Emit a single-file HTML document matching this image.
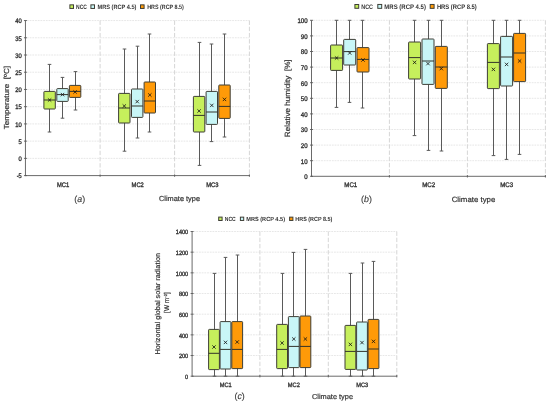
<!DOCTYPE html>
<html><head><meta charset="utf-8"><title>Box plots</title>
<style>
html,body{margin:0;padding:0;background:#fff;}
svg{display:block;font-family:"Liberation Sans",sans-serif;text-rendering:geometricPrecision;}
.g{stroke:#e1e1e1;stroke-width:0.8;stroke-dasharray:1.8 0.9;}
.d{stroke:#d6d6d6;stroke-width:1;stroke-dasharray:4.4 1.8;}
.ax{stroke:#595959;stroke-width:0.9;}
.w{stroke:#5a5a5a;stroke-width:1;}
.b{stroke:#3e3e36;stroke-width:1;}
.m{stroke:#33332a;stroke-width:1;}
.x{stroke:#111;stroke-width:0.8;fill:none;}
.t{fill:#333;stroke:#333;stroke-width:0.34;}
.lg{fill:#333;font-weight:bold;}
.lab{fill:#333;stroke:#333;stroke-width:0.2;}
.cap{font-size:8.8px;fill:#333;stroke:#333;stroke-width:0.1;}
</style></head><body>
<svg width="550" height="404" viewBox="0 0 550 404">
<rect width="550" height="404" fill="#fff"/>
<line x1="26.95" y1="20.55" x2="249.4" y2="20.55" class="g"/>
<line x1="26.95" y1="37.78" x2="249.4" y2="37.78" class="g"/>
<line x1="26.95" y1="55.01" x2="249.4" y2="55.01" class="g"/>
<line x1="26.95" y1="72.23" x2="249.4" y2="72.23" class="g"/>
<line x1="26.95" y1="89.46" x2="249.4" y2="89.46" class="g"/>
<line x1="26.95" y1="106.69" x2="249.4" y2="106.69" class="g"/>
<line x1="26.95" y1="123.92" x2="249.4" y2="123.92" class="g"/>
<line x1="26.95" y1="141.14" x2="249.4" y2="141.14" class="g"/>
<line x1="26.95" y1="158.37" x2="249.4" y2="158.37" class="g"/>
<line x1="100.10" y1="20.55" x2="100.10" y2="175.6" class="d"/>
<line x1="174.60" y1="20.55" x2="174.60" y2="175.6" class="d"/>
<line x1="249.40" y1="20.55" x2="249.40" y2="175.6" class="d"/>
<line x1="49.5" y1="64.4" x2="49.5" y2="132" class="w"/>
<line x1="47.7" y1="64.4" x2="51.3" y2="64.4" class="w"/>
<line x1="47.7" y1="132" x2="51.3" y2="132" class="w"/>
<rect x="43.90" y="91.4" width="11.4" height="17.60" rx="0.7" fill="#C6EF5C" class="b"/>
<line x1="43.90" y1="100" x2="55.30" y2="100" class="m"/>
<path d="M47.90 98.30L51.30 101.70M47.90 101.70L51.30 98.30" class="x"/>
<line x1="62.5" y1="77.4" x2="62.5" y2="118.2" class="w"/>
<line x1="60.7" y1="77.4" x2="64.3" y2="77.4" class="w"/>
<line x1="60.7" y1="118.2" x2="64.3" y2="118.2" class="w"/>
<rect x="56.80" y="88.6" width="11.4" height="12.80" rx="0.7" fill="#C8F6F7" class="b"/>
<line x1="56.80" y1="94.6" x2="68.20" y2="94.6" class="m"/>
<path d="M60.80 92.90L64.20 96.30M60.80 96.30L64.20 92.90" class="x"/>
<line x1="75.5" y1="71.6" x2="75.5" y2="110" class="w"/>
<line x1="73.7" y1="71.6" x2="77.3" y2="71.6" class="w"/>
<line x1="73.7" y1="110" x2="77.3" y2="110" class="w"/>
<rect x="69.40" y="85.4" width="11.4" height="12.00" rx="0.7" fill="#FF9A08" class="b"/>
<line x1="69.40" y1="91.4" x2="80.80" y2="91.4" class="m"/>
<path d="M73.40 90.30L76.80 93.70M73.40 93.70L76.80 90.30" class="x"/>
<line x1="124.5" y1="49" x2="124.5" y2="151.2" class="w"/>
<line x1="122.7" y1="49" x2="126.3" y2="49" class="w"/>
<line x1="122.7" y1="151.2" x2="126.3" y2="151.2" class="w"/>
<rect x="118.60" y="93.4" width="11.4" height="29.60" rx="0.7" fill="#C6EF5C" class="b"/>
<line x1="118.60" y1="108" x2="130.00" y2="108" class="m"/>
<path d="M122.60 104.30L126.00 107.70M122.60 107.70L126.00 104.30" class="x"/>
<line x1="137.5" y1="46.2" x2="137.5" y2="138" class="w"/>
<line x1="135.7" y1="46.2" x2="139.3" y2="46.2" class="w"/>
<line x1="135.7" y1="138" x2="139.3" y2="138" class="w"/>
<rect x="131.50" y="89" width="11.4" height="28.40" rx="0.7" fill="#C8F6F7" class="b"/>
<line x1="131.50" y1="106" x2="142.90" y2="106" class="m"/>
<path d="M135.50 99.90L138.90 103.30M135.50 103.30L138.90 99.90" class="x"/>
<line x1="149.5" y1="34" x2="149.5" y2="132" class="w"/>
<line x1="147.7" y1="34" x2="151.3" y2="34" class="w"/>
<line x1="147.7" y1="132" x2="151.3" y2="132" class="w"/>
<rect x="144.10" y="82" width="11.4" height="31.00" rx="0.7" fill="#FF9A08" class="b"/>
<line x1="144.10" y1="101" x2="155.50" y2="101" class="m"/>
<path d="M148.10 93.30L151.50 96.70M148.10 96.70L151.50 93.30" class="x"/>
<line x1="199.5" y1="42.4" x2="199.5" y2="165.4" class="w"/>
<line x1="197.7" y1="42.4" x2="201.3" y2="42.4" class="w"/>
<line x1="197.7" y1="165.4" x2="201.3" y2="165.4" class="w"/>
<rect x="193.40" y="96.4" width="11.4" height="35.60" rx="0.7" fill="#C6EF5C" class="b"/>
<line x1="193.40" y1="115.4" x2="204.80" y2="115.4" class="m"/>
<path d="M197.40 109.30L200.80 112.70M197.40 112.70L200.80 109.30" class="x"/>
<line x1="211.5" y1="44" x2="211.5" y2="141.6" class="w"/>
<line x1="209.7" y1="44" x2="213.3" y2="44" class="w"/>
<line x1="209.7" y1="141.6" x2="213.3" y2="141.6" class="w"/>
<rect x="206.10" y="91.4" width="11.4" height="33.00" rx="0.7" fill="#C8F6F7" class="b"/>
<line x1="206.10" y1="112" x2="217.50" y2="112" class="m"/>
<path d="M210.10 103.70L213.50 107.10M210.10 107.10L213.50 103.70" class="x"/>
<line x1="224.5" y1="34" x2="224.5" y2="137" class="w"/>
<line x1="222.7" y1="34" x2="226.3" y2="34" class="w"/>
<line x1="222.7" y1="137" x2="226.3" y2="137" class="w"/>
<rect x="218.80" y="85" width="11.4" height="33.40" rx="0.7" fill="#FF9A08" class="b"/>
<line x1="218.80" y1="106.4" x2="230.20" y2="106.4" class="m"/>
<path d="M222.80 97.70L226.20 101.10M222.80 101.10L226.20 97.70" class="x"/>
<line x1="25.45" y1="20.55" x2="25.45" y2="176.1" class="ax"/>
<line x1="25.45" y1="175.6" x2="249.8" y2="175.6" class="ax"/>
<line x1="23.95" y1="20.55" x2="26.95" y2="20.55" class="ax"/>
<text transform="translate(21.7 23.35) scale(0.8851 1)" class="t" text-anchor="end" font-size="6.6">40</text>
<line x1="23.95" y1="37.78" x2="26.95" y2="37.78" class="ax"/>
<text transform="translate(21.7 40.58) scale(0.8851 1)" class="t" text-anchor="end" font-size="6.6">35</text>
<line x1="23.95" y1="55.01" x2="26.95" y2="55.01" class="ax"/>
<text transform="translate(21.7 57.81) scale(0.8851 1)" class="t" text-anchor="end" font-size="6.6">30</text>
<line x1="23.95" y1="72.23" x2="26.95" y2="72.23" class="ax"/>
<text transform="translate(21.7 75.03) scale(0.8851 1)" class="t" text-anchor="end" font-size="6.6">25</text>
<line x1="23.95" y1="89.46" x2="26.95" y2="89.46" class="ax"/>
<text transform="translate(21.7 92.26) scale(0.8851 1)" class="t" text-anchor="end" font-size="6.6">20</text>
<line x1="23.95" y1="106.69" x2="26.95" y2="106.69" class="ax"/>
<text transform="translate(21.7 109.49) scale(0.8851 1)" class="t" text-anchor="end" font-size="6.6">15</text>
<line x1="23.95" y1="123.92" x2="26.95" y2="123.92" class="ax"/>
<text transform="translate(21.7 126.72) scale(0.8851 1)" class="t" text-anchor="end" font-size="6.6">10</text>
<line x1="23.95" y1="141.14" x2="26.95" y2="141.14" class="ax"/>
<text transform="translate(21.7 143.94) scale(0.8851 1)" class="t" text-anchor="end" font-size="6.6">5</text>
<line x1="23.95" y1="158.37" x2="26.95" y2="158.37" class="ax"/>
<text transform="translate(21.7 161.17) scale(0.8851 1)" class="t" text-anchor="end" font-size="6.6">0</text>
<line x1="23.95" y1="175.60" x2="26.95" y2="175.60" class="ax"/>
<text transform="translate(21.7 178.40) scale(0.8579 1)" class="t" text-anchor="end" font-size="6.6">-5</text>
<line x1="100.10" y1="174.4" x2="100.10" y2="176.79999999999998" class="ax"/>
<line x1="174.60" y1="174.4" x2="174.60" y2="176.79999999999998" class="ax"/>
<line x1="249.40" y1="174.4" x2="249.40" y2="176.79999999999998" class="ax"/>
<text transform="translate(63.1 186.8) scale(0.8956 1)" class="t" text-anchor="middle" font-size="6.5">MC1</text>
<text transform="translate(137.7 186.8) scale(0.8956 1)" class="t" text-anchor="middle" font-size="6.5">MC2</text>
<text transform="translate(212.3 186.8) scale(0.8956 1)" class="t" text-anchor="middle" font-size="6.5">MC3</text>
<text x="79.7" y="201.5" class="cap" text-anchor="middle">(<tspan font-style="italic">a</tspan>)</text>
<text transform="translate(179.5 201.4) scale(1.0108 1)" class="lab" text-anchor="middle" font-size="7.3">Climate type</text>
<rect x="69.9" y="4.85" width="3.6000000000000005" height="3.6000000000000005" fill="#C6EF5C" class="b"/>
<text transform="translate(76 8.91) scale(0.7982 1)" class="lg" font-size="6.3">NCC</text>
<rect x="90.9" y="4.85" width="3.6000000000000005" height="3.6000000000000005" fill="#C8F6F7" class="b"/>
<text transform="translate(97.5 8.91) scale(0.8940 1)" class="lg" font-size="6.3">MRS (RCP 4.5)</text>
<rect x="140.5" y="4.85" width="3.6000000000000005" height="3.6000000000000005" fill="#FF9A08" class="b"/>
<text transform="translate(147.2 8.91) scale(0.8547 1)" class="lg" font-size="6.3">HRS (RCP 8.5)</text>
<text transform="translate(8.6 97.6) rotate(-90) scale(1.1102 1)" class="lab" text-anchor="middle" font-size="7.3">Temperature&#160; [ºC]</text>
<line x1="313.0" y1="20.30" x2="545.4" y2="20.30" class="g"/>
<line x1="313.0" y1="35.90" x2="545.4" y2="35.90" class="g"/>
<line x1="313.0" y1="51.50" x2="545.4" y2="51.50" class="g"/>
<line x1="313.0" y1="67.10" x2="545.4" y2="67.10" class="g"/>
<line x1="313.0" y1="82.70" x2="545.4" y2="82.70" class="g"/>
<line x1="313.0" y1="98.30" x2="545.4" y2="98.30" class="g"/>
<line x1="313.0" y1="113.90" x2="545.4" y2="113.90" class="g"/>
<line x1="313.0" y1="129.50" x2="545.4" y2="129.50" class="g"/>
<line x1="313.0" y1="145.10" x2="545.4" y2="145.10" class="g"/>
<line x1="313.0" y1="160.70" x2="545.4" y2="160.70" class="g"/>
<line x1="389.40" y1="20.3" x2="389.40" y2="176.3" class="d"/>
<line x1="467.40" y1="20.3" x2="467.40" y2="176.3" class="d"/>
<line x1="545.40" y1="20.3" x2="545.40" y2="176.3" class="d"/>
<line x1="336.5" y1="20.3" x2="336.5" y2="107.4" class="w"/>
<line x1="334.7" y1="20.3" x2="338.3" y2="20.3" class="w"/>
<line x1="334.7" y1="107.4" x2="338.3" y2="107.4" class="w"/>
<rect x="330.60" y="45" width="12" height="25.40" rx="0.7" fill="#C6EF5C" class="b"/>
<line x1="330.60" y1="58" x2="342.60" y2="58" class="m"/>
<path d="M334.90 56.30L338.30 59.70M334.90 59.70L338.30 56.30" class="x"/>
<line x1="349.5" y1="20.3" x2="349.5" y2="102.4" class="w"/>
<line x1="347.7" y1="20.3" x2="351.3" y2="20.3" class="w"/>
<line x1="347.7" y1="102.4" x2="351.3" y2="102.4" class="w"/>
<rect x="343.70" y="39.4" width="12" height="25.60" rx="0.7" fill="#C8F6F7" class="b"/>
<line x1="343.70" y1="51.6" x2="355.70" y2="51.6" class="m"/>
<path d="M348.00 51.30L351.40 54.70M348.00 54.70L351.40 51.30" class="x"/>
<line x1="362.5" y1="20.3" x2="362.5" y2="108" class="w"/>
<line x1="360.7" y1="20.3" x2="364.3" y2="20.3" class="w"/>
<line x1="360.7" y1="108" x2="364.3" y2="108" class="w"/>
<rect x="357.00" y="47.6" width="12" height="24.40" rx="0.7" fill="#FF9A08" class="b"/>
<line x1="357.00" y1="59.4" x2="369.00" y2="59.4" class="m"/>
<path d="M361.30 58.30L364.70 61.70M361.30 61.70L364.70 58.30" class="x"/>
<line x1="414.5" y1="20.3" x2="414.5" y2="135.6" class="w"/>
<line x1="412.7" y1="20.3" x2="416.3" y2="20.3" class="w"/>
<line x1="412.7" y1="135.6" x2="416.3" y2="135.6" class="w"/>
<rect x="408.60" y="42" width="12" height="37.00" rx="0.7" fill="#C6EF5C" class="b"/>
<line x1="408.60" y1="57.6" x2="420.60" y2="57.6" class="m"/>
<path d="M412.90 60.70L416.30 64.10M412.90 64.10L416.30 60.70" class="x"/>
<line x1="428.5" y1="20.3" x2="428.5" y2="150.4" class="w"/>
<line x1="426.7" y1="20.3" x2="430.3" y2="20.3" class="w"/>
<line x1="426.7" y1="150.4" x2="430.3" y2="150.4" class="w"/>
<rect x="422.00" y="39" width="12" height="45.40" rx="0.7" fill="#C8F6F7" class="b"/>
<line x1="422.00" y1="61" x2="434.00" y2="61" class="m"/>
<path d="M426.30 61.90L429.70 65.30M426.30 65.30L429.70 61.90" class="x"/>
<line x1="441.5" y1="20.3" x2="441.5" y2="151" class="w"/>
<line x1="439.7" y1="20.3" x2="443.3" y2="20.3" class="w"/>
<line x1="439.7" y1="151" x2="443.3" y2="151" class="w"/>
<rect x="435.30" y="46.4" width="12" height="42.00" rx="0.7" fill="#FF9A08" class="b"/>
<line x1="435.30" y1="67" x2="447.30" y2="67" class="m"/>
<path d="M439.60 66.90L443.00 70.30M439.60 70.30L443.00 66.90" class="x"/>
<line x1="493.5" y1="20.3" x2="493.5" y2="155.6" class="w"/>
<line x1="491.7" y1="20.3" x2="495.3" y2="20.3" class="w"/>
<line x1="491.7" y1="155.6" x2="495.3" y2="155.6" class="w"/>
<rect x="487.40" y="43.6" width="12" height="45.00" rx="0.7" fill="#C6EF5C" class="b"/>
<line x1="487.40" y1="62.4" x2="499.40" y2="62.4" class="m"/>
<path d="M491.70 67.70L495.10 71.10M491.70 71.10L495.10 67.70" class="x"/>
<line x1="506.5" y1="20.3" x2="506.5" y2="159.4" class="w"/>
<line x1="504.7" y1="20.3" x2="508.3" y2="20.3" class="w"/>
<line x1="504.7" y1="159.4" x2="508.3" y2="159.4" class="w"/>
<rect x="500.60" y="36.4" width="12" height="49.60" rx="0.7" fill="#C8F6F7" class="b"/>
<line x1="500.60" y1="57" x2="512.60" y2="57" class="m"/>
<path d="M504.90 62.70L508.30 66.10M504.90 66.10L508.30 62.70" class="x"/>
<line x1="519.5" y1="20.3" x2="519.5" y2="154.4" class="w"/>
<line x1="517.7" y1="20.3" x2="521.3" y2="20.3" class="w"/>
<line x1="517.7" y1="154.4" x2="521.3" y2="154.4" class="w"/>
<rect x="513.60" y="33.4" width="12" height="48.20" rx="0.7" fill="#FF9A08" class="b"/>
<line x1="513.60" y1="53" x2="525.60" y2="53" class="m"/>
<path d="M517.90 59.30L521.30 62.70M517.90 62.70L521.30 59.30" class="x"/>
<line x1="311.5" y1="20.3" x2="311.5" y2="176.8" class="ax"/>
<line x1="311.5" y1="176.3" x2="545.8" y2="176.3" class="ax"/>
<line x1="310.0" y1="20.30" x2="313.0" y2="20.30" class="ax"/>
<text transform="translate(307.6 23.10) scale(0.9130 1)" class="t" text-anchor="end" font-size="6.7">100</text>
<line x1="310.0" y1="35.90" x2="313.0" y2="35.90" class="ax"/>
<text transform="translate(307.6 38.70) scale(0.9124 1)" class="t" text-anchor="end" font-size="6.7">90</text>
<line x1="310.0" y1="51.50" x2="313.0" y2="51.50" class="ax"/>
<text transform="translate(307.6 54.30) scale(0.9124 1)" class="t" text-anchor="end" font-size="6.7">80</text>
<line x1="310.0" y1="67.10" x2="313.0" y2="67.10" class="ax"/>
<text transform="translate(307.6 69.90) scale(0.9124 1)" class="t" text-anchor="end" font-size="6.7">70</text>
<line x1="310.0" y1="82.70" x2="313.0" y2="82.70" class="ax"/>
<text transform="translate(307.6 85.50) scale(0.9124 1)" class="t" text-anchor="end" font-size="6.7">60</text>
<line x1="310.0" y1="98.30" x2="313.0" y2="98.30" class="ax"/>
<text transform="translate(307.6 101.10) scale(0.9124 1)" class="t" text-anchor="end" font-size="6.7">50</text>
<line x1="310.0" y1="113.90" x2="313.0" y2="113.90" class="ax"/>
<text transform="translate(307.6 116.70) scale(0.9124 1)" class="t" text-anchor="end" font-size="6.7">40</text>
<line x1="310.0" y1="129.50" x2="313.0" y2="129.50" class="ax"/>
<text transform="translate(307.6 132.30) scale(0.9124 1)" class="t" text-anchor="end" font-size="6.7">30</text>
<line x1="310.0" y1="145.10" x2="313.0" y2="145.10" class="ax"/>
<text transform="translate(307.6 147.90) scale(0.9124 1)" class="t" text-anchor="end" font-size="6.7">20</text>
<line x1="310.0" y1="160.70" x2="313.0" y2="160.70" class="ax"/>
<text transform="translate(307.6 163.50) scale(0.9124 1)" class="t" text-anchor="end" font-size="6.7">10</text>
<line x1="310.0" y1="176.30" x2="313.0" y2="176.30" class="ax"/>
<text transform="translate(307.6 179.10) scale(0.9105 1)" class="t" text-anchor="end" font-size="6.7">0</text>
<line x1="389.40" y1="175.10000000000002" x2="389.40" y2="177.5" class="ax"/>
<line x1="467.40" y1="175.10000000000002" x2="467.40" y2="177.5" class="ax"/>
<line x1="545.40" y1="175.10000000000002" x2="545.40" y2="177.5" class="ax"/>
<text transform="translate(350.8 186.9) scale(0.9204 1)" class="t" text-anchor="middle" font-size="6.7">MC1</text>
<text transform="translate(428.7 186.9) scale(0.9204 1)" class="t" text-anchor="middle" font-size="6.7">MC2</text>
<text transform="translate(506.7 186.9) scale(0.9204 1)" class="t" text-anchor="middle" font-size="6.7">MC3</text>
<text x="366.5" y="202" class="cap" text-anchor="middle">(<tspan font-style="italic">b</tspan>)</text>
<text transform="translate(473.5 202) scale(1.0327 1)" class="lab" text-anchor="middle" font-size="7.6">Climate type</text>
<rect x="354.9" y="4.50" width="3.8" height="3.8" fill="#C6EF5C" class="b"/>
<text transform="translate(361.2 8.76) scale(0.8254 1)" class="lg" font-size="6.6">NCC</text>
<rect x="377.79999999999995" y="4.45" width="3.9000000000000004" height="3.9000000000000004" fill="#C8F6F7" class="b"/>
<text transform="translate(384.3 8.76) scale(0.9105 1)" class="lg" font-size="6.6">MRS (RCP 4.5)</text>
<rect x="430.2" y="4.45" width="3.9000000000000004" height="3.9000000000000004" fill="#FF9A08" class="b"/>
<text transform="translate(436.9 8.76) scale(0.8854 1)" class="lg" font-size="6.6">HRS (RCP 8.5)</text>
<text transform="translate(290.4 98.3) rotate(-90) scale(1.0642 1)" class="lab" text-anchor="middle" font-size="7.6">Relative humidity&#160; [%]</text>
<line x1="193.6" y1="231.50" x2="396.8" y2="231.50" class="g"/>
<line x1="193.6" y1="252.17" x2="396.8" y2="252.17" class="g"/>
<line x1="193.6" y1="272.84" x2="396.8" y2="272.84" class="g"/>
<line x1="193.6" y1="293.51" x2="396.8" y2="293.51" class="g"/>
<line x1="193.6" y1="314.19" x2="396.8" y2="314.19" class="g"/>
<line x1="193.6" y1="334.86" x2="396.8" y2="334.86" class="g"/>
<line x1="193.6" y1="355.53" x2="396.8" y2="355.53" class="g"/>
<line x1="259.90" y1="231.5" x2="259.90" y2="376.2" class="d"/>
<line x1="328.30" y1="231.5" x2="328.30" y2="376.2" class="d"/>
<line x1="396.80" y1="231.5" x2="396.80" y2="376.2" class="d"/>
<line x1="214.5" y1="273.4" x2="214.5" y2="376.2" class="w"/>
<line x1="212.7" y1="273.4" x2="216.3" y2="273.4" class="w"/>
<line x1="212.7" y1="376.2" x2="216.3" y2="376.2" class="w"/>
<rect x="208.60" y="329.4" width="10.8" height="40.20" rx="0.7" fill="#C6EF5C" class="b"/>
<line x1="208.60" y1="353.3" x2="219.40" y2="353.3" class="m"/>
<path d="M212.30 345.30L215.70 348.70M212.30 348.70L215.70 345.30" class="x"/>
<line x1="225.5" y1="257.4" x2="225.5" y2="376.2" class="w"/>
<line x1="223.7" y1="257.4" x2="227.3" y2="257.4" class="w"/>
<line x1="223.7" y1="376.2" x2="227.3" y2="376.2" class="w"/>
<rect x="220.10" y="321.6" width="10.8" height="47.40" rx="0.7" fill="#C8F6F7" class="b"/>
<line x1="220.10" y1="349.4" x2="230.90" y2="349.4" class="m"/>
<path d="M223.80 340.70L227.20 344.10M223.80 344.10L227.20 340.70" class="x"/>
<line x1="237.5" y1="255" x2="237.5" y2="376.2" class="w"/>
<line x1="235.7" y1="255" x2="239.3" y2="255" class="w"/>
<line x1="235.7" y1="376.2" x2="239.3" y2="376.2" class="w"/>
<rect x="231.80" y="321.6" width="10.8" height="47.00" rx="0.7" fill="#FF9A08" class="b"/>
<line x1="231.80" y1="349.4" x2="242.60" y2="349.4" class="m"/>
<path d="M235.50 340.30L238.90 343.70M235.50 343.70L238.90 340.30" class="x"/>
<line x1="282.5" y1="273.4" x2="282.5" y2="376.2" class="w"/>
<line x1="280.7" y1="273.4" x2="284.3" y2="273.4" class="w"/>
<line x1="280.7" y1="376.2" x2="284.3" y2="376.2" class="w"/>
<rect x="276.70" y="324.4" width="10.8" height="44.20" rx="0.7" fill="#C6EF5C" class="b"/>
<line x1="276.70" y1="349.4" x2="287.50" y2="349.4" class="m"/>
<path d="M280.40 341.30L283.80 344.70M280.40 344.70L283.80 341.30" class="x"/>
<line x1="293.5" y1="252.4" x2="293.5" y2="376.2" class="w"/>
<line x1="291.7" y1="252.4" x2="295.3" y2="252.4" class="w"/>
<line x1="291.7" y1="376.2" x2="295.3" y2="376.2" class="w"/>
<rect x="288.40" y="316.6" width="10.8" height="51.00" rx="0.7" fill="#C8F6F7" class="b"/>
<line x1="288.40" y1="346.4" x2="299.20" y2="346.4" class="m"/>
<path d="M292.10 337.30L295.50 340.70M292.10 340.70L295.50 337.30" class="x"/>
<line x1="305.5" y1="249.4" x2="305.5" y2="376.2" class="w"/>
<line x1="303.7" y1="249.4" x2="307.3" y2="249.4" class="w"/>
<line x1="303.7" y1="376.2" x2="307.3" y2="376.2" class="w"/>
<rect x="300.00" y="316" width="10.8" height="51.60" rx="0.7" fill="#FF9A08" class="b"/>
<line x1="300.00" y1="346.4" x2="310.80" y2="346.4" class="m"/>
<path d="M303.70 337.30L307.10 340.70M303.70 340.70L307.10 337.30" class="x"/>
<line x1="350.5" y1="273.4" x2="350.5" y2="376.2" class="w"/>
<line x1="348.7" y1="273.4" x2="352.3" y2="273.4" class="w"/>
<line x1="348.7" y1="376.2" x2="352.3" y2="376.2" class="w"/>
<rect x="345.00" y="325.4" width="10.8" height="44.00" rx="0.7" fill="#C6EF5C" class="b"/>
<line x1="345.00" y1="351.4" x2="355.80" y2="351.4" class="m"/>
<path d="M348.70 342.70L352.10 346.10M348.70 346.10L352.10 342.70" class="x"/>
<line x1="362.5" y1="263" x2="362.5" y2="376.2" class="w"/>
<line x1="360.7" y1="263" x2="364.3" y2="263" class="w"/>
<line x1="360.7" y1="376.2" x2="364.3" y2="376.2" class="w"/>
<rect x="356.60" y="322" width="10.8" height="48.00" rx="0.7" fill="#C8F6F7" class="b"/>
<line x1="356.60" y1="351.4" x2="367.40" y2="351.4" class="m"/>
<path d="M360.30 340.90L363.70 344.30M360.30 344.30L363.70 340.90" class="x"/>
<line x1="373.5" y1="261.4" x2="373.5" y2="376.2" class="w"/>
<line x1="371.7" y1="261.4" x2="375.3" y2="261.4" class="w"/>
<line x1="371.7" y1="376.2" x2="375.3" y2="376.2" class="w"/>
<rect x="368.10" y="319.4" width="10.8" height="49.20" rx="0.7" fill="#FF9A08" class="b"/>
<line x1="368.10" y1="349" x2="378.90" y2="349" class="m"/>
<path d="M371.80 339.70L375.20 343.10M371.80 343.10L375.20 339.70" class="x"/>
<line x1="192.1" y1="231.5" x2="192.1" y2="376.7" class="ax"/>
<line x1="192.1" y1="376.2" x2="397.2" y2="376.2" class="ax"/>
<line x1="190.6" y1="231.50" x2="193.6" y2="231.50" class="ax"/>
<text transform="translate(188.2 234.30) scale(0.9008 1)" class="t" text-anchor="end" font-size="6.2">1400</text>
<line x1="190.6" y1="252.17" x2="193.6" y2="252.17" class="ax"/>
<text transform="translate(188.2 254.97) scale(0.9008 1)" class="t" text-anchor="end" font-size="6.2">1200</text>
<line x1="190.6" y1="272.84" x2="193.6" y2="272.84" class="ax"/>
<text transform="translate(188.2 275.64) scale(0.9008 1)" class="t" text-anchor="end" font-size="6.2">1000</text>
<line x1="190.6" y1="293.51" x2="193.6" y2="293.51" class="ax"/>
<text transform="translate(188.2 296.31) scale(0.9005 1)" class="t" text-anchor="end" font-size="6.2">800</text>
<line x1="190.6" y1="314.19" x2="193.6" y2="314.19" class="ax"/>
<text transform="translate(188.2 316.99) scale(0.9005 1)" class="t" text-anchor="end" font-size="6.2">600</text>
<line x1="190.6" y1="334.86" x2="193.6" y2="334.86" class="ax"/>
<text transform="translate(188.2 337.66) scale(0.9005 1)" class="t" text-anchor="end" font-size="6.2">400</text>
<line x1="190.6" y1="355.53" x2="193.6" y2="355.53" class="ax"/>
<text transform="translate(188.2 358.33) scale(0.9005 1)" class="t" text-anchor="end" font-size="6.2">200</text>
<line x1="190.6" y1="376.20" x2="193.6" y2="376.20" class="ax"/>
<text transform="translate(188.2 379.00) scale(0.8977 1)" class="t" text-anchor="end" font-size="6.2">0</text>
<line x1="259.90" y1="375.0" x2="259.90" y2="377.4" class="ax"/>
<line x1="328.30" y1="375.0" x2="328.30" y2="377.4" class="ax"/>
<line x1="396.80" y1="375.0" x2="396.80" y2="377.4" class="ax"/>
<text transform="translate(225.7 386.8) scale(0.9025 1)" class="t" text-anchor="middle" font-size="6.3">MC1</text>
<text transform="translate(293.8 386.8) scale(0.9025 1)" class="t" text-anchor="middle" font-size="6.3">MC2</text>
<text transform="translate(362.2 386.8) scale(0.9025 1)" class="t" text-anchor="middle" font-size="6.3">MC3</text>
<text x="239.6" y="399.3" class="cap" text-anchor="middle">(<tspan font-style="italic">c</tspan>)</text>
<text transform="translate(332.5 399) scale(1.0262 1)" class="lab" text-anchor="middle" font-size="7.2">Climate type</text>
<rect x="218.70000000000002" y="217.10" width="3.4000000000000004" height="3.4000000000000004" fill="#C6EF5C" class="b"/>
<text transform="translate(224.8 220.95) scale(0.8385 1)" class="lg" font-size="6.0">NCC</text>
<rect x="240.4" y="217.15" width="3.3" height="3.3" fill="#C8F6F7" class="b"/>
<text transform="translate(246.3 220.95) scale(0.9308 1)" class="lg" font-size="6.0">MRS (RCP 4.5)</text>
<rect x="289.59999999999997" y="217.15" width="3.3" height="3.3" fill="#FF9A08" class="b"/>
<text transform="translate(295.3 220.95) scale(0.9045 1)" class="lg" font-size="6.0">HRS (RCP 8.5)</text>
<text transform="translate(159.7 303.7) rotate(-90) scale(1.0361 1)" class="lab" text-anchor="middle" font-size="7.0">Horizontal global solar radiation</text>
<text transform="translate(169.2 302.6) rotate(-90) scale(0.93 1)" class="lab" text-anchor="middle" font-size="7.0">[W m<tspan dy="-2.4" font-size="4.4">-2</tspan><tspan dy="2.4">]</tspan></text>
</svg>
</body></html>
